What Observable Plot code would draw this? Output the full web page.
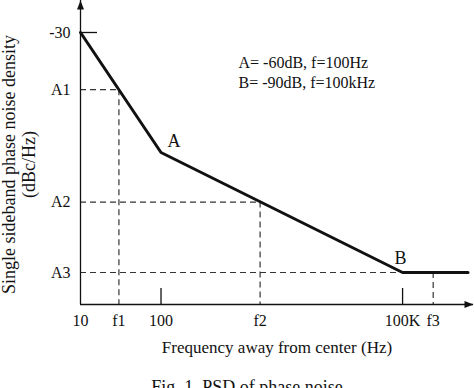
<!DOCTYPE html>
<html>
<head>
<meta charset="utf-8">
<script src="https://cdn.jsdelivr.net/npm/d3@7"></script>
<script src="https://cdn.jsdelivr.net/npm/@observablehq/plot@0.6"></script>
<style>
  html, body { margin: 0; padding: 0; background: #fff; }
  #chart svg { display: block; }
</style>
</head>
<body>
<div id="chart"></div>
<script>
// ---- data ----
const curveFreq = [10, 100, 100000, 650000];
const curveDb   = [-30, -60, -90, -90];

const yTickValues = [-30, -44.3, -72.4, -90];
const yTickLabels = ["-30", "A1", "A2", "A3"];

const xTickValues = [10, 30, 100, 1700, 100000, 240000];
const xTickLabels = ["10", "f1", "100", "f2", "100K", "f3"];

const hGuideLevel = [-44.3, -72.4, -90];
const hGuideEnd   = [30, 1700, 100000];

const vGuideFreq = [30, 1700, 240000];
const vGuideTop  = [-44.3, -72.4, -90];

const pointNames = ["A", "B"];
const pointFreq  = [100, 100000];
const pointDb    = [-60, -90];

const majorTicks = [100, 100000];

const xDomain = [10, 760000];
const yDomain = [-98, -22];

const noteText = "A= -60dB, f=100Hz\nB= -90dB, f=100kHz";
const xLabel = "Frequency away from center (Hz)";
const yLabel = "Single sideband phase noise density\n(dBc/Hz)";
const caption = "Fig. 1. PSD of phase noise";

// ---- build tables ----
const curve = curveFreq.map((f, i) => ({f, db: curveDb[i]}));
const yTicks = yTickValues.map((v, i) => ({v, label: yTickLabels[i]}));
const xTicks = xTickValues.map((v, i) => ({v, label: xTickLabels[i]}));
const hGuides = hGuideLevel.map((y, i) => ({y, x2: hGuideEnd[i]}));
const vGuides = vGuideFreq.map((x, i) => ({x, y1: vGuideTop[i]}));
const points = pointNames.map((n, i) => ({n, f: pointFreq[i], db: pointDb[i]}));

const ink = "#111";
const upArrow = {draw(ctx) { ctx.moveTo(0, 0); ctx.lineTo(3.5, 9); ctx.lineTo(-3.5, 9); ctx.closePath(); }};
const rightArrow = {draw(ctx) { ctx.moveTo(0, 0); ctx.lineTo(-9, -3.5); ctx.lineTo(-9, 3.5); ctx.closePath(); }};

const chart = Plot.plot({
  width: 474,
  height: 388,
  marginLeft: 80,
  marginRight: 1,
  marginTop: 0,
  marginBottom: 84,
  x: {type: "log", domain: xDomain, axis: null},
  y: {domain: yDomain, axis: null},
  style: {fontFamily: "'Liberation Serif', 'Times New Roman', serif", background: "#fff", color: ink},
  marks: [
    // dashed guides
    Plot.ruleY(hGuides, {y: "y", x1: xDomain[0], x2: "x2", stroke: "#333", strokeWidth: 1.2, strokeDasharray: "6,4"}),
    Plot.ruleX(vGuides, {x: "x", y1: "y1", y2: yDomain[0], stroke: "#333", strokeWidth: 1.2, strokeDasharray: "6,4"}),
    // axes
    Plot.ruleX([xDomain[0]], {stroke: ink, strokeWidth: 1.3}),
    Plot.ruleY([yDomain[0]], {stroke: ink, strokeWidth: 1.3}),
    Plot.dot([0], {x: () => xDomain[0], y: () => yDomain[1], symbol: upArrow, fill: ink, stroke: "none"}),
    Plot.dot([0], {x: () => xDomain[1], y: () => yDomain[0], symbol: rightArrow, fill: ink, stroke: "none"}),
    // small ticks
    Plot.ruleY([yTickValues[0]], {x1: xDomain[0], x2: xDomain[0], insetRight: -17, stroke: ink, strokeWidth: 1.3}),
    Plot.ruleX(majorTicks, {y1: yDomain[0], y2: yDomain[0], insetTop: -16, stroke: ink, strokeWidth: 1.3}),
    // curve
    Plot.line(curve, {x: "f", y: "db", stroke: ink, strokeWidth: 3, strokeLinejoin: "miter"}),
    // tick labels
    Plot.text(yTicks, {x: () => xDomain[0], y: "v", text: "label", textAnchor: "end", dx: -10, fontSize: 16, fill: ink}),
    Plot.text(xTicks, {x: "v", y: () => yDomain[0], text: "label", dy: 16, fontSize: 16, fill: ink}),
    // point labels
    Plot.text(points.slice(0, 1), {x: "f", y: "db", text: "n", dx: 13, dy: -11, fontSize: 18, fill: ink}),
    Plot.text(points.slice(1), {x: "f", y: "db", text: "n", dx: -2, dy: -14, fontSize: 18, fill: ink}),
    // note
    Plot.text([noteText], {frameAnchor: "top-left", text: d => d, textAnchor: "start", lineAnchor: "top", dx: 158, dy: 53, fontSize: 16, lineHeight: 1.25, fill: ink}),
    // axis labels
    Plot.text([xLabel], {frameAnchor: "bottom", text: d => d, dy: 48, fontSize: 17, fill: ink}),
    Plot.text([yLabel], {frameAnchor: "left", text: d => d, textAnchor: "middle", lineAnchor: "middle", rotate: -90, dx: -62, dy: 12, fontSize: 18, lineHeight: 1.12, fill: ink}),
    // caption (cut off at bottom, as in the reference)
    Plot.text([caption], {frameAnchor: "bottom", text: d => d, lineAnchor: "top", dx: -30, dy: 76, fontSize: 18, fill: ink})
  ]
});
document.getElementById("chart").appendChild(chart);
</script>
</body>
</html>
